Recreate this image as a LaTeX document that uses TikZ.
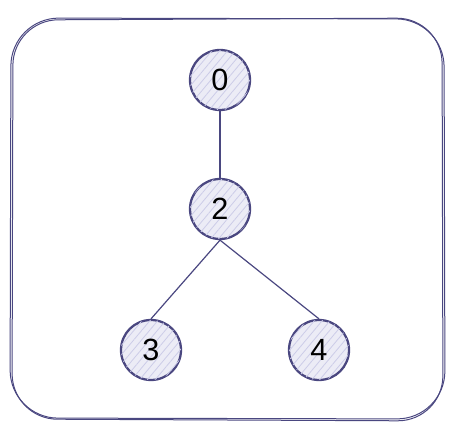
\documentclass[tikz,border=0pt]{standalone}
\usepackage{fontspec}
\setmainfont{Liberation Sans}
\usetikzlibrary{patterns.meta}
\definecolor{inkline}{RGB}{74,71,128}
\definecolor{inkfill}{RGB}{236,236,246}
\definecolor{inkhatch}{RGB}{204,204,232}
\tikzset{every picture/.style={line width=0.75pt}}
\tikzset{
  treenode/.style={circle, draw=inkline, line width=1.7pt, fill=inkfill, minimum size=45pt, inner sep=0pt,
    font=\fontsize{23}{27}\selectfont,
    postaction={pattern={Lines[angle=50,distance=4.5pt,line width=0.6pt]}, pattern color=inkhatch}},
  treeedge/.style={draw=inkline, line width=0.9pt}
}

\begin{document}
\begin{tikzpicture}[x=0.75pt,y=0.75pt,yscale=-1,xscale=1]
\useasboundingbox (0,0) rectangle (453,434);

%Shape: Rounded Rectangle
\draw [draw=inkline, rounded corners=36pt]  (11,18) -- (444,19) -- (445,419) -- (10,418) -- cycle ;
\draw [draw=inkline, rounded corners=34pt]  (13,20) -- (442,18) -- (443,421) -- (12,419) -- cycle ;

% Tree Nodes
\node [treenode] (n0) at (220,80) {0};
\node [treenode] (n2) at (220,209) {2};
\node [treenode] (n3) at (151,350) {3};
\node [treenode] (n4) at (319,350) {4};

%Straight Lines
\draw [treeedge]  (n0) -- (n2) ;
\draw [treeedge]  (n2.south) -- (n3.north) ;
\draw [treeedge]  (n2.south) -- (n4.north) ;

\end{tikzpicture}
\end{document}
